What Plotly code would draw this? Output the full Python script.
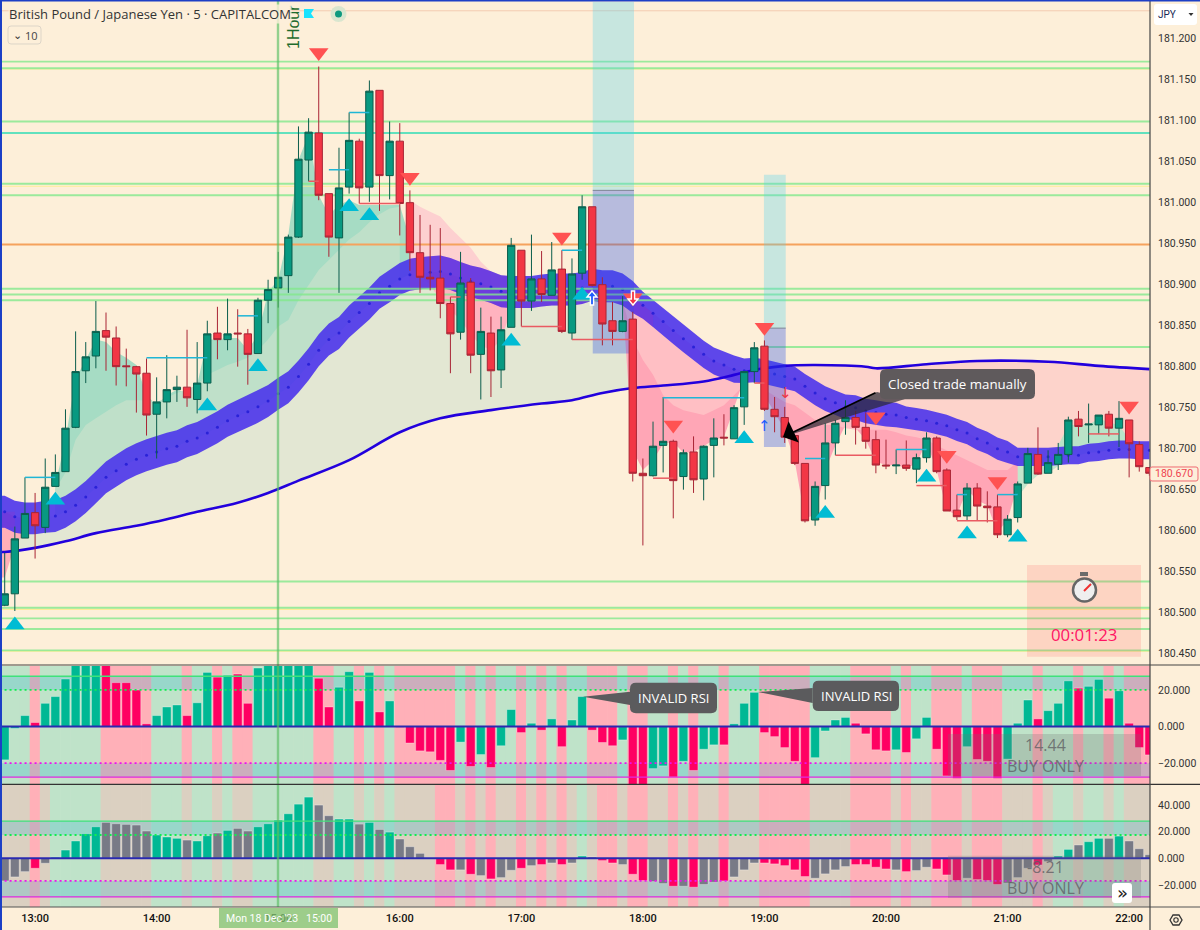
import plotly.graph_objects as go

W, H = 1200, 930
BG = "#fdefd9"

candle_open = [180.509,180.523,180.591,180.622,180.604,180.654,180.672,180.726,180.795,180.813,
180.844,180.835,180.801,180.800,180.792,180.742,180.757,180.772,180.775,180.760,
180.780,180.841,180.833,180.841,180.840,180.816,180.881,180.896,180.911,180.958,
181.052,181.085,181.011,180.957,181.019,181.075,181.019,181.137,181.033,181.075,
181.000,180.939,180.909,180.908,180.877,180.842,180.903,180.815,180.841,180.796,
180.848,180.942,180.880,180.907,180.887,180.919,180.841,180.914,180.995,180.900,
180.856,180.843,180.858,180.670,180.667,180.704,180.709,180.666,180.696,180.663,
180.704,180.714,180.712,180.751,180.794,180.825,180.748,180.738,180.716,180.682,
180.613,180.655,180.707,180.733,180.738,180.726,180.711,180.680,180.679,180.680,
180.675,180.689,180.713,180.674,180.625,180.618,180.652,180.630,180.629,180.595,
180.616,180.658,180.693,180.670,180.681,180.693,180.736,180.729,180.729,180.742,
180.725,180.735,180.705,180.677]
candle_close = [180.523,180.590,180.621,180.606,180.653,180.671,180.725,180.794,180.812,180.843,
180.836,180.800,180.800,180.791,180.741,180.757,180.772,180.775,180.762,180.780,
180.840,180.833,180.840,180.840,180.815,180.881,180.894,180.909,180.958,181.053,
181.086,181.009,180.958,181.018,181.076,181.018,181.136,181.033,181.075,180.999,
180.939,180.909,180.907,180.877,180.840,180.902,180.814,180.843,180.795,180.845,
180.948,180.880,180.907,180.888,180.918,180.843,180.913,180.995,180.899,180.852,
180.843,180.856,180.670,180.667,180.703,180.709,180.661,180.695,180.662,180.703,
180.713,180.713,180.750,180.794,180.823,180.748,180.739,180.714,180.682,180.612,
180.654,180.707,180.731,180.738,180.726,180.709,180.680,180.679,180.680,180.676,
180.689,180.713,180.672,180.624,180.617,180.652,180.630,180.628,180.595,180.614,
180.657,180.694,180.669,180.683,180.693,180.735,180.727,180.730,180.741,180.725,
180.737,180.706,180.678,180.670]
candle_high = [180.573,180.605,180.665,180.646,180.688,180.693,180.748,180.843,180.830,180.880,
180.866,180.849,180.822,180.801,180.810,180.787,180.814,180.789,180.845,180.830,
180.856,180.873,180.883,180.870,180.846,180.884,180.906,180.940,180.961,181.093,
181.103,181.166,181.011,181.067,181.110,181.078,181.149,181.137,181.099,181.097,
181.015,180.985,180.973,180.969,180.885,180.940,180.908,180.872,180.861,180.861,
180.957,180.942,180.961,180.941,180.952,180.942,180.932,181.009,180.995,180.909,
180.879,180.886,180.867,180.688,180.733,180.763,180.711,180.699,180.715,180.704,
180.737,180.742,180.753,180.794,180.830,180.832,180.763,180.751,180.716,180.682,
180.660,180.731,180.735,180.759,180.746,180.744,180.722,180.711,180.699,180.710,
180.694,180.720,180.715,180.676,180.644,180.658,180.658,180.648,180.644,180.619,
180.660,180.701,180.726,180.698,180.707,180.739,180.746,180.755,180.741,180.746,
180.758,180.735,180.709,180.677]
candle_low = [180.508,180.502,180.591,180.566,180.597,180.654,180.672,180.725,180.780,180.798,
180.795,180.777,180.776,180.744,180.716,180.688,180.737,180.757,180.751,180.743,
180.770,180.809,180.820,180.800,180.778,180.816,180.853,180.872,180.890,180.957,
181.026,181.003,180.934,180.890,181.011,180.999,181.001,180.990,181.004,180.960,
180.917,180.890,180.893,180.859,180.792,180.833,180.792,180.760,180.763,180.774,
180.848,180.849,180.868,180.879,180.887,180.841,180.833,180.906,180.898,180.826,
180.826,180.842,180.660,180.582,180.666,180.671,180.615,180.650,180.646,180.637,
180.665,180.704,180.712,180.729,180.780,180.746,180.720,180.707,180.680,180.610,
180.606,180.638,180.692,180.717,180.705,180.700,180.670,180.675,180.669,180.673,
180.658,180.683,180.670,180.624,180.613,180.613,180.612,180.610,180.591,180.592,
180.610,180.658,180.668,180.670,180.674,180.683,180.715,180.707,180.718,180.715,
180.702,180.665,180.672,180.667]

ribbon_mid = [180.623,180.617,180.615,180.615,180.617,180.618,180.623,180.631,180.641,180.653,
180.665,180.673,180.681,180.687,180.692,180.696,180.700,180.703,180.709,180.713,
180.719,180.726,180.734,180.740,180.745,180.751,180.758,180.767,180.775,180.788,
180.803,180.820,180.833,180.841,180.855,180.866,180.877,180.890,180.898,180.907,
180.912,180.914,180.915,180.916,180.913,180.908,180.904,180.901,180.897,180.892,
180.891,180.891,180.891,180.893,180.894,180.894,180.894,180.896,180.900,180.898,
180.898,180.894,180.885,180.875,180.865,180.855,180.844,180.834,180.824,180.815,
180.807,180.802,180.797,180.795,180.796,180.794,180.791,180.788,180.785,180.776,
180.768,180.761,180.756,180.751,180.750,180.746,180.744,180.742,180.741,180.738,
180.736,180.734,180.731,180.728,180.723,180.719,180.712,180.707,180.700,180.696,
180.690,180.690,180.690,180.690,180.691,180.692,180.692,180.695,180.696,180.698,
180.699,180.699,180.698,180.698]
ribbon_half = [0.0195]*63 + [0.0165]*10 + [0.0150]*16 + [0.0135]*11 + [0.0110]*14

ma_bars = [0,3,6,9,13,16,19,23,26,29,34,39,43,48,53,56,59,62,65,69,72,74,77,80,85,86,91,96,103,108,113]
ma_vals = [180.574,180.579,180.587,180.597,180.606,180.614,180.623,180.634,180.646,180.661,180.686,180.720,
           180.737,180.747,180.755,180.759,180.768,180.774,180.777,180.782,180.790,180.796,180.801,180.802,
           180.800,180.798,180.803,180.807,180.806,180.801,180.797]

green_outer = [180.656,180.711,180.786,180.808,180.833,180.830,180.818,180.811,180.802,180.765,180.753,180.765,
               180.772,180.768,180.778,180.833,180.833,180.835,180.835,180.820,180.839,180.891,180.906,180.961,
               181.052,181.083,181.009,180.985,180.997,181.003,180.997,180.997,180.997,180.997,180.997,180.955]
green_inner = [180.650,180.671,180.711,180.729,180.737,180.745,180.753,180.759,180.759,180.759,180.757,180.762,
               180.768,180.772,180.778,180.790,180.796,180.802,180.806,180.811,180.820,180.833,180.849,180.857,
               180.881,180.900,180.918,180.930,180.942,180.955,180.964,180.976,180.986,180.993,180.995]
pink_top = [181.003,180.995,180.989,180.983,180.969,180.957,180.945,180.928,180.916]
pink_a = [180.912,180.900,180.881,180.869,180.857,180.839,180.826,180.820,180.833,180.869]
pink_b_fast = [180.880,180.698,180.674,180.686,180.706,180.708,180.695,180.696,180.703,180.711,180.714,180.750,180.786,180.794]
pink_b_inner = [180.881,180.833,180.808,180.790,180.765,180.753,180.747,180.744,180.741,180.747,180.753,180.765,180.778,180.790]
pink_c_fast = [180.765,180.744,180.723,180.684,180.615,180.619,180.674,180.704,180.729,180.725,180.711,180.684,180.680,
               180.680,180.676,180.682,180.708,180.674,180.625,180.619,180.650,180.637,180.631,180.598,180.613,180.656,180.686]
pink_c_inner = [180.772,180.765,180.757,180.753,180.744,180.735,180.729,180.729,180.725,180.723,180.723,180.723,180.723,
                180.720,180.716,180.714,180.711,180.704,180.698,180.692,180.686,180.680,180.674,180.674,180.674,180.684,180.692]
mint_right = [180.704,180.729,180.729,180.729,180.737,180.732,180.729,180.711]
mint_low = [180.641,180.657,180.668,180.670,180.679]
pink_left = [180.543,180.582,180.597]

osc_fast = [-18.2,-1,6,2.2,12.7,16.4,26,36,36,36,35,24,24,20,1.5,6,10.7,11.8,6,13,29.6,27,28,28.7,12.7,32,36,36,36,36,36,
            26.4,10.7,21.5,30,14,29.6,8,14,-0.5,-9,-13.3,-13.8,-18.5,-24,-8.5,-21.8,-15.3,-22.4,-10.5,9.3,-3.3,1.8,-2,4.2,
            -11,3.6,16.4,-2,-8.7,-10.5,-7.3,-34,-34,-23,-21.5,-27.6,-19,-24,-12.4,-10,-10,1.5,12.7,18.7,-3.3,-5.5,-11.5,-19,
            -34,-17,-2.4,3.6,5,1.8,-4,-12.7,-13.3,-12.7,-14.2,-6.7,5,-12.4,-27,-28.4,-11,-18,-19,-28.4,-17.8,1.8,14.5,4.2,8.7,
            12.7,25,21,22,25.8,15.5,19.6,1.8,-11.5,-15.5]
osc_slow = [-17,-14,-10,-7.5,-3.7,0.8,6.2,13,18.5,23.7,27,26,25.5,25,20.5,17.5,16,15,13.7,13,17,19,21,22.5,20.5,23.7,26,28.7,
            33.5,40.7,46,40,32,29.5,29.5,25.7,27,21.7,19.7,14.5,8.7,3.7,0.3,-4.7,-8.7,-8.7,-12,-13,-15.5,-14.5,-9,-7.5,-5.5,
            -4.7,-3.5,-4.7,-3.5,1.7,1,-1.7,-3.5,-4.7,-12,-16.7,-17.5,-19,-21,-21,-21.7,-19.7,-18,-17,-14,-8.7,-3.5,-3.5,-4.2,
            -5.5,-8.7,-13.7,-15,-11.7,-8.7,-6.2,-4.7,-4.7,-6.7,-8,-8.7,-10,-9.2,-6.7,-8,-12.5,-16.7,-15,-16,-16.7,-19.7,-18.7,
            -14.5,-7.5,-5,-2.5,1.7,6.7,10,12.5,15,15,16.7,13,7.2,2.7]

up_bars = [1,5,20,25,34,36,50,57,73,81,91,95,100]
up_prices = [180.485,180.637,180.752,180.800,180.995,180.984,180.831,180.887,180.712,180.621,180.665,180.596,180.592]
down_bars = [31,40,55,62,66,75,86,93,98,111]
down_prices = [181.183,181.031,180.958,180.884,180.729,180.848,180.739,180.692,180.660,180.752]

cyan_from = [2,14,23,32,34,55,65,79,88,94,98]
cyan_to = [5,20,25,34,36,57,73,81,91,95,100]
cyan_level = [180.665,180.811,180.862,181.040,181.110,180.942,180.762,180.688,180.699,180.644,180.644]
red_from = [30,35,44,51,56,64,74,82,90,94,107]
red_to = [31,39,45,55,62,66,75,86,93,98,110]
red_level = [181.026,180.999,180.885,180.849,180.833,180.664,180.780,180.692,180.655,180.612,180.718]

green_levels = [181.172,181.164,181.099,181.023,181.009,180.895,180.888,180.881,180.538,180.506,180.493,180.480,180.454]
yellow_levels = [181.163,181.020,180.504,180.453]
teal_level = 181.085
orange_level = 180.949
partial_level = 180.824
faint_level = 181.234

hour_bars = [3,15,27,39,51,63,75,87,99,111]
hour_labels = ["13:00","14:00","15:00","16:00","17:00","18:00","19:00","20:00","21:00","22:00"]
price_ticks = [181.2,181.15,181.1,181.05,181.0,180.95,180.9,180.85,180.8,180.75,180.7,180.65,180.6,180.55,180.5,180.45]

BARS = list(range(len(candle_open)))
X0, X1 = (2-4.7)/10.13, (1150-4.7)/10.13
MAIN = [180.4368, 181.2447]
P1 = [-31.4, 33.1]
P2 = [-36.6, 55.1]

def px(x): return x/W
def py(y): return 1-y/H

is_up = [c >= o for o, c in zip(candle_open, candle_close)]
GREEN, PINK, GREY = "#00b894", "#ff0062", "#787a86"
p1_bg = ["#bfe3c9" if u else "#ffb0b8" for u in is_up]
p1_col = [GREEN if u else PINK for u in is_up]
p2_col, p2_bg = [], []
for u, v in zip(is_up, osc_slow):
    if u and v > 0: p2_col.append(GREEN); p2_bg.append("#bfe3c9")
    elif (not u) and v < 0: p2_col.append(PINK); p2_bg.append("#ffb0b8")
    else: p2_col.append(GREY); p2_bg.append("#dbd0c1")

fig = go.Figure()

def poly(xa, ya, xb, yb, color, yaxis="y"):
    fig.add_trace(go.Scatter(x=list(xa)+list(xb)[::-1], y=list(ya)+list(yb)[::-1], mode="lines", line=dict(width=0),
                             fill="toself", fillcolor=color, hoverinfo="skip", showlegend=False, yaxis=yaxis))

def rng(a, b): return list(range(a, b+1))
def rib(a, b): return ribbon_mid[a:b+1]

# big background fills between ribbon and long average
cut = 74
ma_x = [X0] + ma_bars
ma_y = [ma_vals[0]] + ma_vals
poly([i for i in ma_x if i <= cut], [v for i, v in zip(ma_x, ma_y) if i <= cut], [X0]+rng(0, cut), [ribbon_mid[0]]+rib(0, cut), "#e3e7d3")
poly([i for i in ma_bars if i >= cut], [v for i, v in zip(ma_bars, ma_vals) if i >= cut], rng(cut, 113), rib(cut, 113), "#fdd3cb")

# fast / slow bands
poly(rng(5, 40), green_outer, rng(5, 40), rib(5, 40), "#a6dcc4")
poly(rng(5, 39), green_inner, rng(5, 39), rib(5, 39), "#bfe0c9")
poly(rng(40, 48), pink_top, rng(40, 48), rib(40, 48), "#fdd0d0")
poly(rng(41, 50), pink_a, rng(41, 50), rib(41, 50), "#ffb3bf")
poly(rng(61, 74), pink_b_fast, rng(61, 74), rib(61, 74), "#ffa6b6")
poly(rng(61, 74), pink_b_inner, rng(61, 74), rib(61, 74), "#ffbfc4")
poly(rng(75, 101), pink_c_fast, rng(75, 101), rib(75, 101), "#ffa6b6")
poly(rng(75, 101), pink_c_inner, rng(75, 101), rib(75, 101), "#ffbfc4")
poly(rng(100, 104), mint_low, rng(100, 104), rib(100, 104), "#c3e6cc")
poly(rng(104, 111), mint_right, rng(104, 111), rib(104, 111), "#b9e3c8")
poly([X0]+rng(0, 2), [pink_left[0]]+pink_left, [X0]+rng(0, 2), [ribbon_mid[0]]+rib(0, 2), "#ffb0b8")

# ribbon
up = [m+h for m, h in zip(ribbon_mid, ribbon_half)]
dn = [m-h for m, h in zip(ribbon_mid, ribbon_half)]
poly([X0]+BARS, [up[0]]+up, [X0]+BARS, [dn[0]]+dn, "rgba(72,48,236,0.88)")
poly(rng(40, 50), up[40:51], rng(40, 50), dn[40:51], "rgba(165,40,190,0.22)")
poly(rng(50, 64), ribbon_mid[50:65], rng(50, 64), dn[50:65], "rgba(165,40,190,0.22)")
poly([X0]+rng(0, 1), [ribbon_mid[0]]*3, [X0]+rng(0, 1), [dn[0]]*3, "rgba(165,40,190,0.22)")
fig.add_trace(go.Scatter(x=BARS, y=ribbon_mid, mode="markers", marker=dict(size=3, color="#2a22d8"), hoverinfo="skip", showlegend=False))
fig.add_trace(go.Scatter(x=ma_x, y=ma_y, mode="lines", line=dict(color="#2200dd", width=2.6, shape="spline"), hoverinfo="skip", showlegend=False))

def hline(level, color, width=1.6, a=-1, b=114, yaxis="y", dash=None):
    fig.add_trace(go.Scatter(x=[a, b], y=[level, level], mode="lines", line=dict(color=color, width=width, dash=dash),
                             hoverinfo="skip", showlegend=False, yaxis=yaxis))

hline(faint_level, "rgba(235,170,140,0.5)", 1)
for v in yellow_levels: hline(v, "rgba(255,236,130,0.75)", 1.2)
for v in green_levels: hline(v, "rgba(130,232,140,0.8)", 1.9)
hline(teal_level, "rgba(70,222,185,0.85)", 1.9)
hline(orange_level, "#f5a25d", 2)
hline(partial_level, "rgba(130,232,140,0.8)", 1.9, a=75)

# position boxes
TEAL_BOX = "rgba(76,210,240,0.3)"
BLUE_BOX = "rgba(41,82,230,0.33)"
poly([58.05, 62.12], [181.3, 181.3], [58.05, 62.12], [181.015, 181.015], TEAL_BOX)
poly([58.05, 62.12], [181.015, 181.015], [58.05, 62.12], [180.816, 180.816], BLUE_BOX)
poly([74.95, 77.1], [181.034, 181.034], [74.95, 77.1], [180.847, 180.847], TEAL_BOX)
poly([74.95, 77.1], [180.847, 180.847], [74.95, 77.1], [180.702, 180.702], BLUE_BOX)
hline(181.015, "#7f8795", 1, a=58.05, b=62.12)
hline(180.847, "#7f8795", 1, a=74.95, b=77.1)

# candles
fig.add_trace(go.Candlestick(x=BARS, open=candle_open, high=candle_high, low=candle_low, close=candle_close, yaxis="y4",
    increasing=dict(line=dict(color="#0b5d4c", width=1), fillcolor="#089981"),
    decreasing=dict(line=dict(color="#a92535", width=1), fillcolor="#f23645"),
    whiskerwidth=0, hoverinfo="skip", showlegend=False))

# step levels and signals
def steps(a, b, v, color):
    xs, ys = [], []
    for i, j, l in zip(a, b, v):
        xs += [i, j, None]; ys += [l, l, None]
    fig.add_trace(go.Scatter(x=xs, y=ys, mode="lines", line=dict(color=color, width=1.5), yaxis="y5", hoverinfo="skip", showlegend=False))
steps(cyan_from, cyan_to, cyan_level, "#1fb6d6")
steps(red_from, red_to, red_level, "#ea5a62")
fig.add_trace(go.Scatter(x=up_bars, y=up_prices, mode="markers", yaxis="y5", hoverinfo="skip", showlegend=False,
                         marker=dict(symbol="triangle-up", size=17, color="#00bcd4", line=dict(width=0))))
fig.add_trace(go.Scatter(x=down_bars, y=down_prices, mode="markers", yaxis="y5", hoverinfo="skip", showlegend=False,
                         marker=dict(symbol="triangle-down", size=17, color="#ff5252", line=dict(width=0))))

# oscillator panels
fig.add_trace(go.Bar(x=BARS, y=[P1[1]-P1[0]]*len(BARS), base=P1[0], width=1.06, marker=dict(color=p1_bg, line=dict(width=0)), yaxis="y2", hoverinfo="skip", showlegend=False))
fig.add_trace(go.Bar(x=BARS, y=[P2[1]-P2[0]]*len(BARS), base=P2[0], width=1.06, marker=dict(color=p2_bg, line=dict(width=0)), yaxis="y3", hoverinfo="skip", showlegend=False))
BAND = "rgba(0,170,210,0.2)"
poly([-1, 114], [20, 20], [-1, 114], [27.5, 27.5], BAND, "y2")
poly([-1, 114], [-20, -20], [-1, 114], [-27.6, -27.6], BAND, "y2")
poly([-1, 114], [17.5, 17.5], [-1, 114], [28, 28], BAND, "y3")
poly([-1, 114], [-17, -17], [-1, 114], [-29, -29], BAND, "y3")

BL = dict(color="rgba(255,255,255,0.45)", width=0.7)
fig.add_trace(go.Bar(x=BARS, y=osc_fast, width=0.86, marker=dict(color=p1_col, line=BL), yaxis="y6", hoverinfo="skip", showlegend=False))
fig.add_trace(go.Bar(x=BARS, y=osc_slow, width=0.86, marker=dict(color=p2_col, line=BL), yaxis="y7", hoverinfo="skip", showlegend=False))
DOT = "2px,3px"
hline(27.5, "#3fe27a", 1.3, yaxis="y6")
hline(20, "#10ee50", 1.8, yaxis="y6", dash=DOT)
hline(-20, "#ee10ee", 1.8, yaxis="y6", dash=DOT)
hline(-27.6, "#e028e0", 1.3, yaxis="y6")
hline(0, "#2a2ab0", 2, yaxis="y6")
hline(28, "#3fe27a", 1.3, yaxis="y7")
hline(17.5, "#10ee50", 1.8, yaxis="y7", dash=DOT)
hline(-17, "#ee10ee", 1.8, yaxis="y7", dash=DOT)
hline(-29, "#e028e0", 1.3, yaxis="y7")
hline(0, "#2a2ab0", 2, yaxis="y7")

# ---- layout furniture
shapes, notes = [], []
def rect(x0, y0, x1, y1, fill, line=None, lw=0):
    shapes.append(dict(type="rect", xref="paper", yref="paper", x0=px(x0), x1=px(x1), y0=py(y0), y1=py(y1),
                       fillcolor=fill, line=dict(color=line or fill, width=lw), layer="above"))
def seg(x0, y0, x1, y1, color, w=1):
    shapes.append(dict(type="line", xref="paper", yref="paper", x0=px(x0), x1=px(x1), y0=py(y0), y1=py(y1), line=dict(color=color, width=w), layer="above"))
def path(pts, fill, line=None, lw=0):
    d = "M " + " L ".join(f"{px(a):.5f},{py(b):.5f}" for a, b in pts) + " Z"
    shapes.append(dict(type="path", xref="paper", yref="paper", path=d, fillcolor=fill, line=dict(color=line or fill, width=lw), layer="above"))
def rrect(x0, y0, x1, y1, r, fill, line=None, lw=0):
    P = lambda a, b: f"{px(a):.5f},{py(b):.5f}"
    d = (f"M {P(x0+r,y0)} L {P(x1-r,y0)} Q {P(x1,y0)} {P(x1,y0+r)} L {P(x1,y1-r)} Q {P(x1,y1)} {P(x1-r,y1)} "
         f"L {P(x0+r,y1)} Q {P(x0,y1)} {P(x0,y1-r)} L {P(x0,y0+r)} Q {P(x0,y0)} {P(x0+r,y0)} Z")
    shapes.append(dict(type="path", xref="paper", yref="paper", path=d, fillcolor=fill, line=dict(color=line or fill, width=lw), layer="above"))
def circle(cx, cy, r, fill, line=None, lw=0):
    shapes.append(dict(type="circle", xref="paper", yref="paper", x0=px(cx-r), x1=px(cx+r), y0=py(cy+r), y1=py(cy-r),
                       fillcolor=fill, line=dict(color=line or fill, width=lw), layer="above"))
def text(x, y, s, size=12, color="#222", family="Open Sans", anchor="center", angle=0, bg=None, **kw):
    notes.append(dict(xref="paper", yref="paper", x=px(x), y=py(y), text=s, showarrow=False, xanchor=anchor, yanchor="middle",
                      textangle=angle, bgcolor=bg, font=dict(size=size, color=color, family=family, **kw), borderpad=0))
def block_arrow(cx, cy, sign, color):
    # sign -1 points up, +1 points down
    pts = [(cx, cy+sign*7), (cx+5, cy+sign*1), (cx+1.6, cy+sign*1), (cx+1.6, cy-sign*7), (cx-1.6, cy-sign*7), (cx-1.6, cy+sign*1), (cx-5, cy+sign*1)]
    path(pts, color, "#ffffff", 1.4)

# vertical hour marker across panels
seg(278, 0, 278, 907, "rgba(90,190,100,0.65)", 2.4)
text(293, 27, "1Hour", size=16, color="#1e6b2c", family="Liberation Sans", angle=-90)

# panel separators / frame
seg(0, 665, 1200, 665, "#444", 1.2)
seg(0, 784.3, 1200, 784.3, "#333", 1.2)
seg(0, 907, 1200, 907, "#555", 1.2)
seg(1150, 0, 1150, 930, "#444", 1.2)
rect(0, 0, 2, 930, "#1c3fc6")
rect(0, 0, 1200, 1.5, "#1c3fc6")

# legend header
text(8, 14, "British Pound / Japanese Yen · 5 · CAPITALCOM", size=13, color="#333", anchor="left", bg="rgba(253,239,217,0.8)")
rrect(8, 26, 41, 44, 3, BG, "#ddd5c8", 1)
text(17, 35.5, "⌄", size=11, color="#333", family="DejaVu Sans")
text(31, 35.5, "10", size=11, color="#444")
path([(304, 9), (314, 9), (311, 13.5), (314, 18), (304, 18)], "#19e3ff")
circle(338.5, 14, 8, "#d9e6cf")
circle(338.5, 14, 3.5, "#0e9a7f")

# JPY tag
rrect(1154, 4, 1197, 25, 3, "#ffffff")
text(1157, 14.5, "JPY", size=10, color="#1a2a55", family="Roboto", anchor="left")
path([(1188.5, 13), (1193.5, 13), (1191, 16)], "#333")

# last price tag
rrect(1150, 467, 1198, 481, 2, BG, "#ef6a72", 1)
text(1174, 474, "180.670", size=10.5, color="#ef4450", family="Roboto")

# timer card
rect(1027, 565, 1141, 656.7, "rgba(255,105,105,0.2)")
rect(1080, 572, 1088, 576, "#6b6b6b")
circle(1084.5, 590, 11.5, "#efefef", "#666", 2.5)
seg(1084, 591, 1091, 584, "#ef3030", 2)
text(1084, 634, "00:01:23", size=16.8, color="#ff1464", family="Open Sans")

# readouts
rect(948, 734, 1141, 776, "rgba(110,110,110,0.25)")
text(1045, 745, "14.44", size=16, color="rgba(95,95,100,0.8)")
text(1045, 765.7, "BUY ONLY", size=16, color="rgba(95,95,100,0.8)")
rect(948, 855.7, 1141, 898, "rgba(110,110,110,0.25)")
text(1045, 867, "-8.21", size=16, color="rgba(95,95,100,0.8)")
text(1045, 888, "BUY ONLY", size=16, color="rgba(95,95,100,0.8)")

# callouts
path([(877, 392), (905, 399), (783, 437)], "rgba(40,40,50,0.7)")
rrect(880, 369, 1035, 399.3, 6, "#5f5a5c")
text(957.5, 384, "Closed trade manually", size=13.3, color="#ffffff")
notes.append(dict(xref="paper", yref="paper", x=px(783), y=py(437), ax=94, ay=-45, text="", showarrow=True, arrowhead=1, arrowsize=2.2, arrowwidth=1.8, arrowcolor="#000"))
path([(630, 691.7), (630, 705), (583, 696.7)], "#5b5b5d")
rrect(630, 682.7, 717, 713.3, 6, "#5b5b5d")
text(673.5, 698, "INVALID RSI", size=13, color="#ffffff")
path([(812.7, 688), (812.7, 703), (758, 692)], "#5b5b5d")
rrect(812.7, 680.7, 899, 711, 6, "#5b5b5d")
text(856, 696, "INVALID RSI", size=13, color="#ffffff")

# trade arrows
block_arrow(592, 298, -1, "#1f5cff")
block_arrow(633, 298, 1, "#f23645")
text(764, 425.7, "↑", size=15, color="#1f5cff", family="DejaVu Sans")
text(785, 393, "↓", size=15, color="#f23645", family="DejaVu Sans")

# date badge
rect(219, 908, 338, 928, "rgba(130,195,115,0.78)")
text(278.5, 918.5, "Mon 18 Dec '23   15:00", size=10.5, color="#ffffff", family="Roboto")

# scroll button, settings glyph
rrect(1112, 883, 1132, 903, 3, "#ffffff")
text(1122, 892, "»", size=18, color="#222", family="DejaVu Sans")
path([(1170, 920), (1173, 915), (1179, 915), (1182, 920), (1179, 925), (1173, 925)], BG, "#333", 1.3)
circle(1176, 920, 2.2, BG, "#333", 1.1)

AX = dict(showgrid=False, zeroline=False)
def dom(a, b): return [1-b/H, 1-a/H]
TICKF = dict(family="Roboto", size=10.5, color="#333")
fig.update_layout(
    width=W, height=H, margin=dict(l=0, r=0, t=0, b=0), autosize=False,
    paper_bgcolor=BG, plot_bgcolor=BG, showlegend=False, barmode="overlay", font=dict(family="Roboto"),
    boxgap=0.28, boxgroupgap=0,
    shapes=shapes, annotations=notes, hovermode=False,
    xaxis=dict(domain=[2/W, 1150/W], range=[X0, X1], anchor="y3", tickmode="array", tickvals=hour_bars, ticktext=hour_labels,
               tickfont=dict(family="Roboto", size=11, color="#111", weight=500), ticks="", ticklabelstandoff=3, rangeslider=dict(visible=False), **AX),
    yaxis=dict(domain=dom(2, 664.5), range=MAIN, side="right", anchor="x", tickmode="array", tickvals=price_ticks, tickformat=".3f",
               tickfont=TICKF, ticks="", ticklabelstandoff=7, **AX),
    yaxis2=dict(domain=dom(666, 784), range=P1, side="right", anchor="x", tickmode="array", tickvals=[20, 0, -20], tickformat=".3f",
                tickfont=TICKF, ticks="", ticklabelstandoff=7, **AX),
    yaxis3=dict(domain=dom(785, 907), range=P2, side="right", anchor="x", tickmode="array", tickvals=[40, 20, 0, -20], tickformat=".3f",
                tickfont=TICKF, ticks="", ticklabelstandoff=7, **AX),
    yaxis4=dict(overlaying="y", range=MAIN, visible=False, anchor="x", **AX),
    yaxis5=dict(overlaying="y", range=MAIN, visible=False, anchor="x", **AX),
    yaxis6=dict(overlaying="y2", range=P1, visible=False, anchor="x", **AX),
    yaxis7=dict(overlaying="y3", range=P2, visible=False, anchor="x", **AX),
)
fig.write_html("out.html", config=dict(displayModeBar=False),
               post_script="document.body.style.margin='0';document.documentElement.style.overflow='hidden';")
